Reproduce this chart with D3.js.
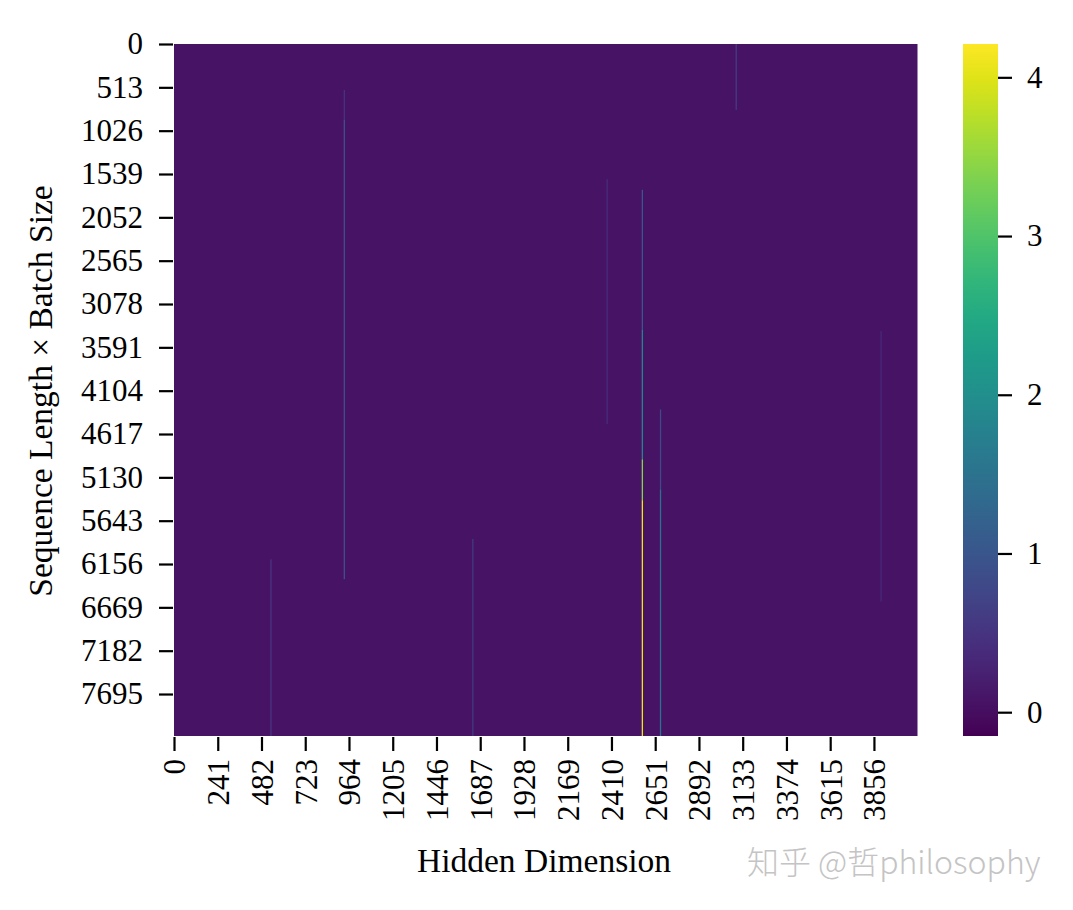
<!DOCTYPE html>
<html>
<head>
<meta charset="utf-8">
<script src="https://cdn.jsdelivr.net/npm/d3@7"></script>
<style>
  html, body { margin: 0; padding: 0; background: #fff; }
  svg { display: block; }
</style>
</head>
<body>
<svg id="chart" width="1073" height="910"></svg>
<script>
// ---- data ----
const hiddenDim = 4096;          // columns (Hidden Dimension)
const tokenCount = 8192;         // rows (Sequence Length × Batch Size)
const xTickValues = [0, 241, 482, 723, 964, 1205, 1446, 1687, 1928, 2169, 2410, 2651, 2892, 3133, 3374, 3615, 3856];
const yTickValues = [0, 513, 1026, 1539, 2052, 2565, 3078, 3591, 4104, 4617, 5130, 5643, 6156, 6669, 7182, 7695];
const colorTicks = [0, 1, 2, 3, 4];
const valueRange = [-0.15, 4.21];
const backgroundValue = 0.06;    // typical activation magnitude (noise floor)
// outlier channels: [channel, rowStart, rowEnd, value]
const outlierChannels = [2580, 2580, 2580, 2580, 2680, 2680, 938, 938, 3097, 534, 1646, 2386, 3895];
const outlierRowStart = [1726, 3380, 4917, 5400, 4326, 5272, 544, 900, 0, 6100, 5860, 1600, 3400];
const outlierRowEnd   = [3380, 4917, 5400, 8192, 5272, 8192, 900, 6336, 780, 8192, 8192, 4500, 6600];
const outlierValues   = [1.0, 1.8, 3.4, 4.1, 0.8, 1.5, 0.5, 0.95, 0.6, 0.5, 0.55, 0.4, 0.35];

// ---- layout ----
const plot = { left: 174, right: 917.5, top: 44, bottom: 736 };
const cbar = { left: 963, right: 998, top: 44, bottom: 736 };
const font = "'Liberation Serif', 'Times New Roman', serif";

const svg = d3.select("#chart");
const x = d3.scaleLinear().domain([0, hiddenDim]).range([plot.left, plot.right]);
const y = d3.scaleLinear().domain([0, tokenCount]).range([plot.top, plot.bottom]);
const color = d3.scaleSequential(d3.interpolateViridis).domain(valueRange);

// background cells
svg.append("rect")
  .attr("x", x(0)).attr("y", y(0))
  .attr("width", x(hiddenDim) - x(0)).attr("height", y(tokenCount) - y(0))
  .attr("fill", color(backgroundValue));

// outlier channel stripes
const stripes = outlierChannels.map((c, i) => ({ c, r0: outlierRowStart[i], r1: outlierRowEnd[i], v: outlierValues[i] }));
svg.append("g").selectAll("rect").data(stripes).join("rect")
  .attr("x", d => x(d.c) - 0.6)
  .attr("width", d => Math.max(x(d.c + 1) - x(d.c), 1.3))
  .attr("y", d => y(d.r0))
  .attr("height", d => y(d.r1) - y(d.r0))
  .attr("fill", d => color(d.v));

// axes
const xAxis = d3.axisBottom(x).tickValues(xTickValues).tickSize(14).tickPadding(6).tickFormat(d3.format("d"));
const gx = svg.append("g").attr("transform", `translate(0,${plot.bottom + 1})`).call(xAxis);
gx.select(".domain").remove();
gx.selectAll(".tick line").attr("stroke", "#000").attr("stroke-width", 2.2);
gx.selectAll(".tick text")
  .attr("font-family", font).attr("font-size", 31).attr("fill", "#000")
  .attr("transform", "rotate(-90)")
  .attr("text-anchor", "end")
  .attr("x", -22).attr("y", 0).attr("dy", "0.35em");

const yAxis = d3.axisLeft(y).tickValues(yTickValues).tickSize(14).tickPadding(16).tickFormat(d3.format("d"));
const gy = svg.append("g").attr("transform", `translate(${plot.left - 1},0)`).call(yAxis);
gy.select(".domain").remove();
gy.selectAll(".tick line").attr("stroke", "#000").attr("stroke-width", 2.2);
gy.selectAll(".tick text").attr("font-family", font).attr("font-size", 31).attr("fill", "#000");

// axis labels
svg.append("text")
  .attr("x", 544).attr("y", 872)
  .attr("text-anchor", "middle")
  .attr("font-family", font).attr("font-size", 33.5)
  .text("Hidden Dimension");
svg.append("text")
  .attr("transform", `translate(52,391) rotate(-90)`)
  .attr("text-anchor", "middle")
  .attr("font-family", font).attr("font-size", 33.5)
  .text("Sequence Length × Batch Size");

// colorbar
const defs = svg.append("defs");
const grad = defs.append("linearGradient").attr("id", "cbgrad")
  .attr("x1", 0).attr("y1", 1).attr("x2", 0).attr("y2", 0);
d3.range(0, 1.0001, 0.05).forEach(t => {
  grad.append("stop").attr("offset", t).attr("stop-color", d3.interpolateViridis(t));
});
svg.append("rect")
  .attr("x", cbar.left).attr("y", cbar.top)
  .attr("width", cbar.right - cbar.left).attr("height", cbar.bottom - cbar.top)
  .attr("fill", "url(#cbgrad)");
const cy = d3.scaleLinear().domain(valueRange).range([cbar.bottom, cbar.top]);
const cAxis = d3.axisRight(cy).tickValues(colorTicks).tickSize(14).tickPadding(15).tickFormat(d3.format("d"));
const gc = svg.append("g").attr("transform", `translate(${cbar.right},0)`).call(cAxis);
gc.select(".domain").remove();
gc.selectAll(".tick line").attr("stroke", "#000").attr("stroke-width", 2.2);
gc.selectAll(".tick text").attr("font-family", font).attr("font-size", 31).attr("fill", "#000");

// watermark
svg.append("text")
  .attr("x", 747).attr("y", 874)
  .attr("font-family", "'Noto Sans CJK SC', 'Noto Sans', sans-serif").attr("font-size", 32)
  .attr("font-weight", 300)
  .attr("fill", "#c4c4c4")
  .text("知乎 @哲philosophy");
</script>
</body>
</html>
